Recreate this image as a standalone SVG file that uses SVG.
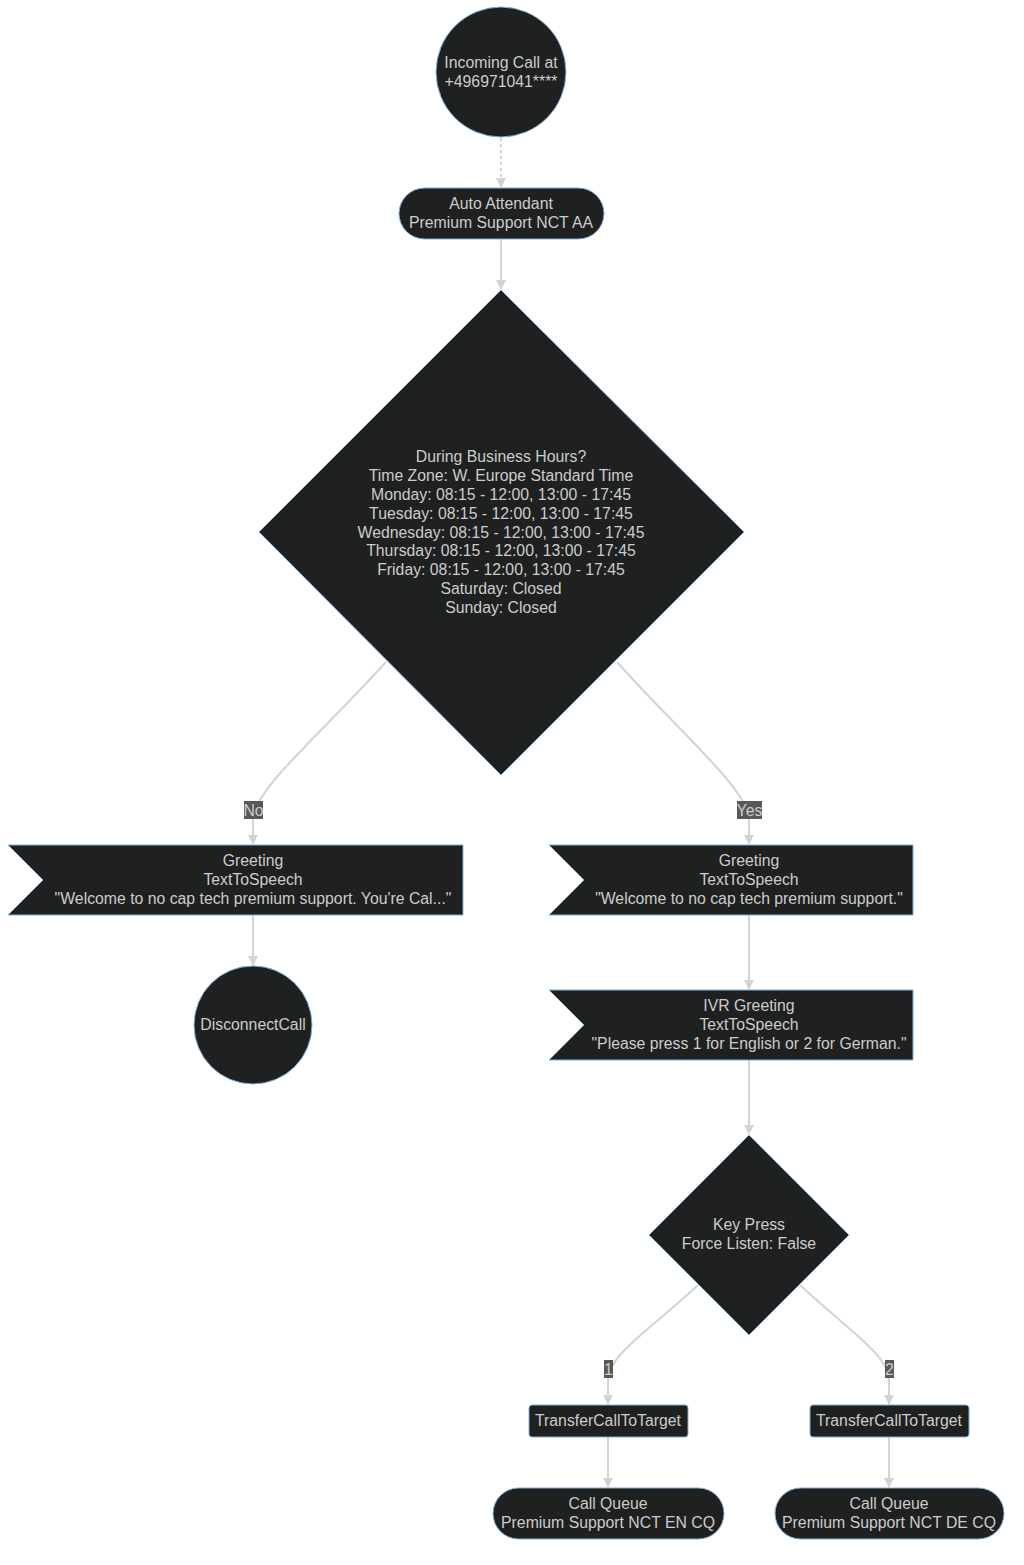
<svg xmlns="http://www.w3.org/2000/svg" width="1024" height="1565" viewBox="0 0 1024 1565">
<defs>
<style>
.n{fill:#1f2020;stroke:#81b1db;stroke-width:1}
.t{font-family:"Liberation Sans",Arial,sans-serif;font-size:15.8px;fill:#cccccc;text-anchor:middle}
.e{fill:none;stroke:#d3d3d3;stroke-width:2}
.d{stroke-dasharray:3 3}
.lb{fill:#585858}
.lt{font-family:"Liberation Sans",Arial,sans-serif;font-size:15.8px;fill:#cccccc;text-anchor:middle}
</style>
<marker id="ah" viewBox="0 0 10 10" refX="9" refY="5" markerWidth="10" markerHeight="10" markerUnits="userSpaceOnUse" orient="auto">
<path d="M0,0 L10,5 L0,10 z" fill="#d3d3d3"/>
</marker>
</defs>
<rect width="1024" height="1565" fill="#ffffff"/>
<g id="connectors">
<path class="e d" d="M501,138 L501,187" marker-end="url(#ah)"/>
<path class="e" d="M501,239 L501,289" marker-end="url(#ah)"/>
<path class="e" d="M386,662 C320,735 253,790 253,820 L253,844" marker-end="url(#ah)"/>
<path class="e" d="M617,662 C682,735 749,790 749,820 L749,844" marker-end="url(#ah)"/>
<path class="e" d="M253,915 L253,965" marker-end="url(#ah)"/>
<path class="e" d="M749,915 L749,989" marker-end="url(#ah)"/>
<path class="e" d="M749,1060 L749,1134" marker-end="url(#ah)"/>
<path class="e" d="M698,1285 C650,1330 608,1355 608,1380 L608,1404" marker-end="url(#ah)"/>
<path class="e" d="M800,1285 C848,1330 889,1355 889,1380 L889,1404" marker-end="url(#ah)"/>
<path class="e" d="M608,1437 L608,1487" marker-end="url(#ah)"/>
<path class="e" d="M889,1437 L889,1487" marker-end="url(#ah)"/>
<rect class="lb" x="244" y="801" width="19" height="18"/>
<text class="lt" x="253.5" y="815.5">No</text>
<rect class="lb" x="737" y="801" width="25" height="18"/>
<text class="lt" x="749.5" y="815.5">Yes</text>
<rect class="lb" x="604" y="1360" width="9" height="18"/>
<text class="lt" x="608.5" y="1374.5">1</text>
<rect class="lb" x="885" y="1360" width="9" height="18"/>
<text class="lt" x="889.5" y="1374.5">2</text>
</g>
<g id="incoming">
<circle class="n" cx="501" cy="72" r="65"/>
<text class="t" x="501" y="68">Incoming Call at</text>
<text class="t" x="501" y="87">+496971041****</text>
</g>
<g id="aa">
<rect class="n" x="399" y="188" width="205" height="51" rx="25.5"/>
<text class="t" x="501" y="209">Auto Attendant</text>
<text class="t" x="501" y="228">Premium Support NCT AA</text>
</g>
<g id="hours">
<polygon class="n" points="501,290 744,532 501,775 259,532"/>
<text class="t" x="501" y="462">During Business Hours?</text>
<text class="t" x="501" y="481">Time Zone: W. Europe Standard Time</text>
<text class="t" x="501" y="500">Monday: 08:15 - 12:00, 13:00 - 17:45</text>
<text class="t" x="501" y="519">Tuesday: 08:15 - 12:00, 13:00 - 17:45</text>
<text class="t" x="501" y="538">Wednesday: 08:15 - 12:00, 13:00 - 17:45</text>
<text class="t" x="501" y="556">Thursday: 08:15 - 12:00, 13:00 - 17:45</text>
<text class="t" x="501" y="575">Friday: 08:15 - 12:00, 13:00 - 17:45</text>
<text class="t" x="501" y="594">Saturday: Closed</text>
<text class="t" x="501" y="613">Sunday: Closed</text>
</g>
<g id="greetingNo">
<polygon class="n" points="8,845 463,845 463,915 8,915 43,880"/>
<text class="t" x="253" y="866">Greeting</text>
<text class="t" x="253" y="885">TextToSpeech</text>
<text class="t" x="253" y="904">"Welcome to no cap tech premium support. You're Cal..."</text>
</g>
<g id="disconnect">
<circle class="n" cx="253" cy="1025" r="59"/>
<text class="t" x="253" y="1030">DisconnectCall</text>
</g>
<g id="greetingYes">
<polygon class="n" points="549,845 913,845 913,915 549,915 584,880"/>
<text class="t" x="749" y="866">Greeting</text>
<text class="t" x="749" y="885">TextToSpeech</text>
<text class="t" x="749" y="904">"Welcome to no cap tech premium support."</text>
</g>
<g id="ivr">
<polygon class="n" points="549,990 913,990 913,1060 549,1060 584,1025"/>
<text class="t" x="749" y="1011">IVR Greeting</text>
<text class="t" x="749" y="1030">TextToSpeech</text>
<text class="t" x="749" y="1049">"Please press 1 for English or 2 for German."</text>
</g>
<g id="keypress">
<polygon class="n" points="749,1135 849,1235 749,1335 649,1235"/>
<text class="t" x="749" y="1230">Key Press</text>
<text class="t" x="749" y="1249">Force Listen: False</text>
</g>
<g id="transfer1">
<rect class="n" x="529" y="1405" width="159" height="32" rx="3"/>
<text class="t" x="608" y="1426">TransferCallToTarget</text>
</g>
<g id="transfer2">
<rect class="n" x="810" y="1405" width="159" height="32" rx="3"/>
<text class="t" x="889" y="1426">TransferCallToTarget</text>
</g>
<g id="cqEN">
<rect class="n" x="493" y="1488" width="231" height="51" rx="25.5"/>
<text class="t" x="608" y="1509">Call Queue</text>
<text class="t" x="608" y="1528">Premium Support NCT EN CQ</text>
</g>
<g id="cqDE">
<rect class="n" x="775" y="1488" width="229" height="51" rx="25.5"/>
<text class="t" x="889" y="1509">Call Queue</text>
<text class="t" x="889" y="1528">Premium Support NCT DE CQ</text>
</g>
</svg>
